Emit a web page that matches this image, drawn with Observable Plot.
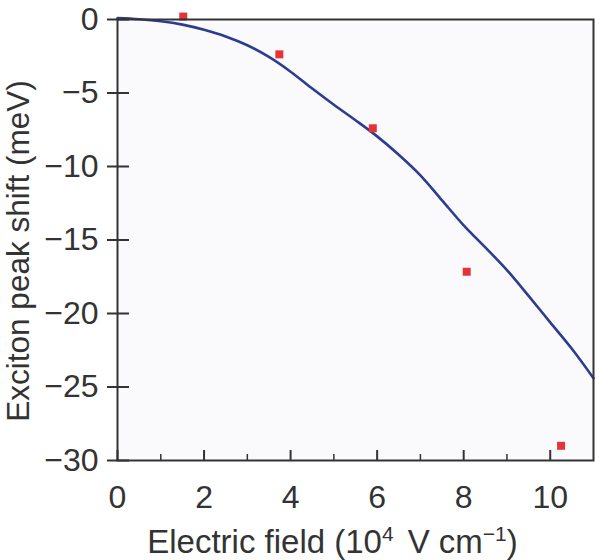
<!DOCTYPE html>
<html><head><meta charset="utf-8">
<script src="https://cdn.jsdelivr.net/npm/d3@7"></script>
<script src="https://cdn.jsdelivr.net/npm/@observablehq/plot@0.6"></script>
<style>body{margin:0;background:#fff;} svg{display:block}</style>
</head><body><div id="chart"></div>
<script>
// Theory curve (electric field in 10^4 V/cm, peak shift in meV)
const fieldCurve = [0, 0.5, 1, 1.5, 2, 2.5, 3, 3.5, 4, 4.5, 5, 5.5, 6, 6.5, 7, 7.5, 8, 8.5, 9, 9.5, 10, 10.5, 11];
const shiftCurve = [0.1, 0.02, -0.12, -0.35, -0.7, -1.15, -1.75, -2.55, -3.55, -4.7, -5.8, -6.85, -7.95, -9.2, -10.6, -12.3, -14.0, -15.5, -17.05, -18.8, -20.6, -22.4, -24.4];
// Measured points
const fieldPoints = [1.52, 3.74, 5.90, 8.07, 10.25];
const shiftPoints = [0.2, -2.37, -7.40, -17.16, -29.0];
// Ticks
const xMajorTicks = [0, 2, 4, 6, 8, 10];
const xMinorTicks = [1, 3, 5, 7, 9];
const yTicks = [0, -5, -10, -15, -20, -25, -30];
// Titles
const yTitle = "Exciton peak shift (meV)";
const xTitleParts = ["Electric field (10", "4", "V cm", "−1", ")"];
const xTitle = xTitleParts.join("");

const curve = fieldCurve.map((x, i) => ({x, y: shiftCurve[i]}));
const points = fieldPoints.map((x, i) => ({x, y: shiftPoints[i]}));

const chart = Plot.plot({
  width: 600, height: 560,
  marginLeft: 117, marginRight: 7, marginTop: 19, marginBottom: 100,
  style: {fontFamily: "'Liberation Sans', Arial, Helvetica, sans-serif", fontSize: "32px", color: "#333", background: "#fff"},
  x: {domain: [0, 11]},
  y: {domain: [-30, 0]},
  marks: [
    Plot.frame({fill: "#fafafd"}),
    Plot.line(curve, {x: "x", y: "y", stroke: "#2f3b8f", strokeWidth: 2.6, curve: "catmull-rom"}),
    Plot.dot(points, {x: "x", y: "y", symbol: "square", r: 4.5, fill: "#e63339", stroke: "none"}),
    Plot.frame({stroke: "#333", strokeWidth: 2}),
    Plot.axisY(yTicks, {tickSize: 22, dx: 12, tickPadding: 9, strokeWidth: 2, fontSize: 32, label: null}),
    Plot.axisX(xMajorTicks, {tickSize: 10, dy: -10, tickPadding: 25, strokeWidth: 2, fontSize: 32, label: null}),
    Plot.axisX(xMinorTicks, {tickSize: 6, dy: -6, tickFormat: () => "", strokeWidth: 1.5, label: null}),
    Plot.text([yTitle], {frameAnchor: "left", textAnchor: "middle", lineAnchor: "middle", rotate: -90, dx: -99, dy: 11, fontSize: 31.5, fill: "#333"}),
    Plot.text([xTitle], {frameAnchor: "bottom", textAnchor: "middle", dy: 92, dx: -23, fontSize: 33, fill: "#333"})
  ]
});

document.getElementById("chart").appendChild(chart);

// Superscripts in the x title
d3.select(chart).selectAll("text").filter(function() { return this.textContent === xTitle; }).each(function() {
  const t = d3.select(this);
  t.text(null);
  t.append("tspan").text(xTitleParts[0]);
  t.append("tspan").attr("dy", -12).attr("font-size", 21).text(xTitleParts[1]);
  t.append("tspan").attr("dy", 12).attr("dx", 14).text(xTitleParts[2]);
  t.append("tspan").attr("dy", -12).attr("font-size", 21).text(xTitleParts[3]);
  t.append("tspan").attr("dy", 12).text(xTitleParts[4]);
});
</script>
</body></html>
